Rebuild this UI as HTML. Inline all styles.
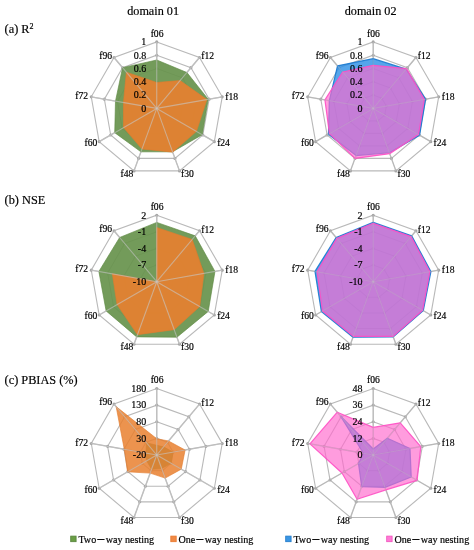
<!DOCTYPE html><html><head><meta charset="utf-8"><title>Radar charts</title><style>html,body{margin:0;padding:0;background:#fff}svg{display:block}text{font-family:"Liberation Serif","Times New Roman",serif;fill:#000;stroke:#000;stroke-width:0.18px}</style></head><body>
<svg width="474" height="550" viewBox="0 0 474 550">
<rect width="474" height="550" fill="#fff"/>
<text x="153.1" y="14.5" font-size="12.2" text-anchor="middle">domain 01</text>
<text x="370.6" y="14.5" font-size="12.2" text-anchor="middle">domain 02</text>
<text x="4.6" y="33" font-size="12.3">(a) R<tspan font-size="8" dy="-4.5">2</tspan></text>
<text x="4.6" y="203.6" font-size="12.3">(b) NSE</text>
<text x="4.6" y="383.9" font-size="12.3">(c) PBIAS (%)</text>
<g>
<polygon points="156.75,95.10 165.30,98.21 169.85,106.09 168.27,115.05 161.30,120.90 152.20,120.90 145.23,115.05 143.65,106.09 148.20,98.21" fill="none" stroke="#b9b9b9" stroke-width="1.1"/>
<polygon points="156.75,81.80 173.85,88.02 182.95,103.78 179.79,121.70 165.85,133.40 147.65,133.40 133.71,121.70 130.55,103.78 139.65,88.02" fill="none" stroke="#b9b9b9" stroke-width="1.1"/>
<polygon points="156.75,68.50 182.40,77.83 196.04,101.47 191.30,128.35 170.40,145.89 143.10,145.89 122.20,128.35 117.46,101.47 131.10,77.83" fill="none" stroke="#b9b9b9" stroke-width="1.1"/>
<polygon points="156.75,55.20 190.95,67.65 209.14,99.16 202.82,135.00 174.95,158.39 138.55,158.39 110.68,135.00 104.36,99.16 122.55,67.65" fill="none" stroke="#b9b9b9" stroke-width="1.1"/>
<polygon points="156.75,41.90 199.50,57.46 222.24,96.85 214.34,141.65 179.49,170.89 134.01,170.89 99.16,141.65 91.26,96.85 114.00,57.46" fill="none" stroke="#b9b9b9" stroke-width="1.1"/>
<circle cx="156.75" cy="108.40" r="1.55" fill="#a6a6a6"/>
<circle cx="156.75" cy="95.10" r="1.55" fill="#a6a6a6"/>
<circle cx="156.75" cy="81.80" r="1.55" fill="#a6a6a6"/>
<circle cx="156.75" cy="68.50" r="1.55" fill="#a6a6a6"/>
<circle cx="156.75" cy="55.20" r="1.55" fill="#a6a6a6"/>
<circle cx="156.75" cy="41.90" r="1.55" fill="#a6a6a6"/>
<circle cx="165.30" cy="98.21" r="1.55" fill="#a6a6a6"/>
<circle cx="173.85" cy="88.02" r="1.55" fill="#a6a6a6"/>
<circle cx="182.40" cy="77.83" r="1.55" fill="#a6a6a6"/>
<circle cx="190.95" cy="67.65" r="1.55" fill="#a6a6a6"/>
<circle cx="199.50" cy="57.46" r="1.55" fill="#a6a6a6"/>
<circle cx="169.85" cy="106.09" r="1.55" fill="#a6a6a6"/>
<circle cx="182.95" cy="103.78" r="1.55" fill="#a6a6a6"/>
<circle cx="196.04" cy="101.47" r="1.55" fill="#a6a6a6"/>
<circle cx="209.14" cy="99.16" r="1.55" fill="#a6a6a6"/>
<circle cx="222.24" cy="96.85" r="1.55" fill="#a6a6a6"/>
<circle cx="168.27" cy="115.05" r="1.55" fill="#a6a6a6"/>
<circle cx="179.79" cy="121.70" r="1.55" fill="#a6a6a6"/>
<circle cx="191.30" cy="128.35" r="1.55" fill="#a6a6a6"/>
<circle cx="202.82" cy="135.00" r="1.55" fill="#a6a6a6"/>
<circle cx="214.34" cy="141.65" r="1.55" fill="#a6a6a6"/>
<circle cx="161.30" cy="120.90" r="1.55" fill="#a6a6a6"/>
<circle cx="165.85" cy="133.40" r="1.55" fill="#a6a6a6"/>
<circle cx="170.40" cy="145.89" r="1.55" fill="#a6a6a6"/>
<circle cx="174.95" cy="158.39" r="1.55" fill="#a6a6a6"/>
<circle cx="179.49" cy="170.89" r="1.55" fill="#a6a6a6"/>
<circle cx="152.20" cy="120.90" r="1.55" fill="#a6a6a6"/>
<circle cx="147.65" cy="133.40" r="1.55" fill="#a6a6a6"/>
<circle cx="143.10" cy="145.89" r="1.55" fill="#a6a6a6"/>
<circle cx="138.55" cy="158.39" r="1.55" fill="#a6a6a6"/>
<circle cx="134.01" cy="170.89" r="1.55" fill="#a6a6a6"/>
<circle cx="145.23" cy="115.05" r="1.55" fill="#a6a6a6"/>
<circle cx="133.71" cy="121.70" r="1.55" fill="#a6a6a6"/>
<circle cx="122.20" cy="128.35" r="1.55" fill="#a6a6a6"/>
<circle cx="110.68" cy="135.00" r="1.55" fill="#a6a6a6"/>
<circle cx="99.16" cy="141.65" r="1.55" fill="#a6a6a6"/>
<circle cx="143.65" cy="106.09" r="1.55" fill="#a6a6a6"/>
<circle cx="130.55" cy="103.78" r="1.55" fill="#a6a6a6"/>
<circle cx="117.46" cy="101.47" r="1.55" fill="#a6a6a6"/>
<circle cx="104.36" cy="99.16" r="1.55" fill="#a6a6a6"/>
<circle cx="91.26" cy="96.85" r="1.55" fill="#a6a6a6"/>
<circle cx="148.20" cy="98.21" r="1.55" fill="#a6a6a6"/>
<circle cx="139.65" cy="88.02" r="1.55" fill="#a6a6a6"/>
<circle cx="131.10" cy="77.83" r="1.55" fill="#a6a6a6"/>
<circle cx="122.55" cy="67.65" r="1.55" fill="#a6a6a6"/>
<circle cx="114.00" cy="57.46" r="1.55" fill="#a6a6a6"/>
<line x1="156.75" y1="108.40" x2="156.75" y2="41.90" stroke="#b2b2b2" stroke-width="1.3"/>
<line x1="156.75" y1="108.40" x2="199.50" y2="57.46" stroke="#b2b2b2" stroke-width="1.3"/>
<line x1="156.75" y1="108.40" x2="222.24" y2="96.85" stroke="#b2b2b2" stroke-width="1.3"/>
<line x1="156.75" y1="108.40" x2="214.34" y2="141.65" stroke="#b2b2b2" stroke-width="1.3"/>
<line x1="156.75" y1="108.40" x2="179.49" y2="170.89" stroke="#b2b2b2" stroke-width="1.3"/>
<line x1="156.75" y1="108.40" x2="134.01" y2="170.89" stroke="#b2b2b2" stroke-width="1.3"/>
<line x1="156.75" y1="108.40" x2="99.16" y2="141.65" stroke="#b2b2b2" stroke-width="1.3"/>
<line x1="156.75" y1="108.40" x2="91.26" y2="96.85" stroke="#b2b2b2" stroke-width="1.3"/>
<line x1="156.75" y1="108.40" x2="114.00" y2="57.46" stroke="#b2b2b2" stroke-width="1.3"/>
<polygon points="156.75,59.99 186.89,72.49 208.22,99.32 202.25,134.67 172.56,151.83 140.94,151.83 114.71,132.67 115.49,101.13 122.55,67.65" fill="#67924c" fill-opacity="0.92" stroke="#5c8742" stroke-width="0.7" stroke-opacity="0.9" stroke-linejoin="round"/>
<polygon points="156.75,82.47 180.09,80.59 206.92,99.55 196.49,131.34 172.67,152.14 141.97,149.02 123.52,127.59 123.48,102.53 126.40,72.23" fill="#e9802f" fill-opacity="0.9" stroke="#e27a2c" stroke-width="0.7" stroke-opacity="0.9" stroke-linejoin="round"/>
<line x1="156.75" y1="108.40" x2="156.75" y2="41.90" stroke="#c8c8c8" stroke-width="1.1" stroke-opacity="0.6"/>
<line x1="156.75" y1="108.40" x2="199.50" y2="57.46" stroke="#c8c8c8" stroke-width="1.1" stroke-opacity="0.6"/>
<line x1="156.75" y1="108.40" x2="222.24" y2="96.85" stroke="#c8c8c8" stroke-width="1.1" stroke-opacity="0.6"/>
<line x1="156.75" y1="108.40" x2="214.34" y2="141.65" stroke="#c8c8c8" stroke-width="1.1" stroke-opacity="0.6"/>
<line x1="156.75" y1="108.40" x2="179.49" y2="170.89" stroke="#c8c8c8" stroke-width="1.1" stroke-opacity="0.6"/>
<line x1="156.75" y1="108.40" x2="134.01" y2="170.89" stroke="#c8c8c8" stroke-width="1.1" stroke-opacity="0.6"/>
<line x1="156.75" y1="108.40" x2="99.16" y2="141.65" stroke="#c8c8c8" stroke-width="1.1" stroke-opacity="0.6"/>
<line x1="156.75" y1="108.40" x2="91.26" y2="96.85" stroke="#c8c8c8" stroke-width="1.1" stroke-opacity="0.6"/>
<line x1="156.75" y1="108.40" x2="114.00" y2="57.46" stroke="#c8c8c8" stroke-width="1.1" stroke-opacity="0.6"/>
<text x="146.15" y="111.70" font-size="10" text-anchor="end">0</text>
<text x="146.15" y="98.40" font-size="10" text-anchor="end">0.2</text>
<text x="146.15" y="85.10" font-size="10" text-anchor="end">0.4</text>
<text x="146.15" y="71.80" font-size="10" text-anchor="end">0.6</text>
<text x="146.15" y="58.50" font-size="10" text-anchor="end">0.8</text>
<text x="146.15" y="45.20" font-size="10" text-anchor="end">1</text>
<text x="157.05" y="36.70" font-size="9.6" text-anchor="middle">f06</text>
<text x="201.30" y="59.26" font-size="9.6" text-anchor="start">f12</text>
<text x="225.24" y="99.65" font-size="9.6" text-anchor="start">f18</text>
<text x="217.14" y="146.15" font-size="9.6" text-anchor="start">f24</text>
<text x="180.99" y="177.09" font-size="9.6" text-anchor="start">f30</text>
<text x="133.41" y="177.09" font-size="9.6" text-anchor="end">f48</text>
<text x="97.36" y="146.15" font-size="9.6" text-anchor="end">f60</text>
<text x="88.06" y="99.15" font-size="9.6" text-anchor="end">f72</text>
<text x="112.10" y="58.86" font-size="9.6" text-anchor="end">f96</text>
</g>
<g>
<polygon points="373.20,95.10 381.75,98.21 386.30,106.09 384.72,115.05 377.75,120.90 368.65,120.90 361.68,115.05 360.10,106.09 364.65,98.21" fill="none" stroke="#b9b9b9" stroke-width="1.1"/>
<polygon points="373.20,81.80 390.30,88.02 399.40,103.78 396.24,121.70 382.30,133.40 364.10,133.40 350.16,121.70 347.00,103.78 356.10,88.02" fill="none" stroke="#b9b9b9" stroke-width="1.1"/>
<polygon points="373.20,68.50 398.85,77.83 412.49,101.47 407.75,128.35 386.85,145.89 359.55,145.89 338.65,128.35 333.91,101.47 347.55,77.83" fill="none" stroke="#b9b9b9" stroke-width="1.1"/>
<polygon points="373.20,55.20 407.40,67.65 425.59,99.16 419.27,135.00 391.40,158.39 355.00,158.39 327.13,135.00 320.81,99.16 339.00,67.65" fill="none" stroke="#b9b9b9" stroke-width="1.1"/>
<polygon points="373.20,41.90 415.95,57.46 438.69,96.85 430.79,141.65 395.94,170.89 350.46,170.89 315.61,141.65 307.71,96.85 330.45,57.46" fill="none" stroke="#b9b9b9" stroke-width="1.1"/>
<circle cx="373.20" cy="108.40" r="1.55" fill="#a6a6a6"/>
<circle cx="373.20" cy="95.10" r="1.55" fill="#a6a6a6"/>
<circle cx="373.20" cy="81.80" r="1.55" fill="#a6a6a6"/>
<circle cx="373.20" cy="68.50" r="1.55" fill="#a6a6a6"/>
<circle cx="373.20" cy="55.20" r="1.55" fill="#a6a6a6"/>
<circle cx="373.20" cy="41.90" r="1.55" fill="#a6a6a6"/>
<circle cx="381.75" cy="98.21" r="1.55" fill="#a6a6a6"/>
<circle cx="390.30" cy="88.02" r="1.55" fill="#a6a6a6"/>
<circle cx="398.85" cy="77.83" r="1.55" fill="#a6a6a6"/>
<circle cx="407.40" cy="67.65" r="1.55" fill="#a6a6a6"/>
<circle cx="415.95" cy="57.46" r="1.55" fill="#a6a6a6"/>
<circle cx="386.30" cy="106.09" r="1.55" fill="#a6a6a6"/>
<circle cx="399.40" cy="103.78" r="1.55" fill="#a6a6a6"/>
<circle cx="412.49" cy="101.47" r="1.55" fill="#a6a6a6"/>
<circle cx="425.59" cy="99.16" r="1.55" fill="#a6a6a6"/>
<circle cx="438.69" cy="96.85" r="1.55" fill="#a6a6a6"/>
<circle cx="384.72" cy="115.05" r="1.55" fill="#a6a6a6"/>
<circle cx="396.24" cy="121.70" r="1.55" fill="#a6a6a6"/>
<circle cx="407.75" cy="128.35" r="1.55" fill="#a6a6a6"/>
<circle cx="419.27" cy="135.00" r="1.55" fill="#a6a6a6"/>
<circle cx="430.79" cy="141.65" r="1.55" fill="#a6a6a6"/>
<circle cx="377.75" cy="120.90" r="1.55" fill="#a6a6a6"/>
<circle cx="382.30" cy="133.40" r="1.55" fill="#a6a6a6"/>
<circle cx="386.85" cy="145.89" r="1.55" fill="#a6a6a6"/>
<circle cx="391.40" cy="158.39" r="1.55" fill="#a6a6a6"/>
<circle cx="395.94" cy="170.89" r="1.55" fill="#a6a6a6"/>
<circle cx="368.65" cy="120.90" r="1.55" fill="#a6a6a6"/>
<circle cx="364.10" cy="133.40" r="1.55" fill="#a6a6a6"/>
<circle cx="359.55" cy="145.89" r="1.55" fill="#a6a6a6"/>
<circle cx="355.00" cy="158.39" r="1.55" fill="#a6a6a6"/>
<circle cx="350.46" cy="170.89" r="1.55" fill="#a6a6a6"/>
<circle cx="361.68" cy="115.05" r="1.55" fill="#a6a6a6"/>
<circle cx="350.16" cy="121.70" r="1.55" fill="#a6a6a6"/>
<circle cx="338.65" cy="128.35" r="1.55" fill="#a6a6a6"/>
<circle cx="327.13" cy="135.00" r="1.55" fill="#a6a6a6"/>
<circle cx="315.61" cy="141.65" r="1.55" fill="#a6a6a6"/>
<circle cx="360.10" cy="106.09" r="1.55" fill="#a6a6a6"/>
<circle cx="347.00" cy="103.78" r="1.55" fill="#a6a6a6"/>
<circle cx="333.91" cy="101.47" r="1.55" fill="#a6a6a6"/>
<circle cx="320.81" cy="99.16" r="1.55" fill="#a6a6a6"/>
<circle cx="307.71" cy="96.85" r="1.55" fill="#a6a6a6"/>
<circle cx="364.65" cy="98.21" r="1.55" fill="#a6a6a6"/>
<circle cx="356.10" cy="88.02" r="1.55" fill="#a6a6a6"/>
<circle cx="347.55" cy="77.83" r="1.55" fill="#a6a6a6"/>
<circle cx="339.00" cy="67.65" r="1.55" fill="#a6a6a6"/>
<circle cx="330.45" cy="57.46" r="1.55" fill="#a6a6a6"/>
<line x1="373.20" y1="108.40" x2="373.20" y2="41.90" stroke="#b2b2b2" stroke-width="1.3"/>
<line x1="373.20" y1="108.40" x2="415.95" y2="57.46" stroke="#b2b2b2" stroke-width="1.3"/>
<line x1="373.20" y1="108.40" x2="438.69" y2="96.85" stroke="#b2b2b2" stroke-width="1.3"/>
<line x1="373.20" y1="108.40" x2="430.79" y2="141.65" stroke="#b2b2b2" stroke-width="1.3"/>
<line x1="373.20" y1="108.40" x2="395.94" y2="170.89" stroke="#b2b2b2" stroke-width="1.3"/>
<line x1="373.20" y1="108.40" x2="350.46" y2="170.89" stroke="#b2b2b2" stroke-width="1.3"/>
<line x1="373.20" y1="108.40" x2="315.61" y2="141.65" stroke="#b2b2b2" stroke-width="1.3"/>
<line x1="373.20" y1="108.40" x2="307.71" y2="96.85" stroke="#b2b2b2" stroke-width="1.3"/>
<line x1="373.20" y1="108.40" x2="330.45" y2="57.46" stroke="#b2b2b2" stroke-width="1.3"/>
<polygon points="373.20,58.66 406.11,69.17 425.59,99.16 419.62,135.20 389.35,152.77 356.03,155.58 328.45,134.24 329.32,100.66 337.51,65.86" fill="#2b8fe6" fill-opacity="0.8" stroke="#1878cf" stroke-width="1.2" stroke-opacity="0.9" stroke-linejoin="round"/>
<polygon points="373.20,65.31 406.54,68.67 424.28,99.39 418.52,134.57 389.69,153.70 355.00,158.39 329.43,133.67 324.93,99.89 342.68,72.03" fill="#ff68cd" fill-opacity="0.66" stroke="#ff4fc4" stroke-width="1.2" stroke-opacity="0.9" stroke-linejoin="round"/>
<line x1="373.20" y1="108.40" x2="373.20" y2="41.90" stroke="#c8c8c8" stroke-width="1.1" stroke-opacity="0.3"/>
<line x1="373.20" y1="108.40" x2="415.95" y2="57.46" stroke="#c8c8c8" stroke-width="1.1" stroke-opacity="0.3"/>
<line x1="373.20" y1="108.40" x2="438.69" y2="96.85" stroke="#c8c8c8" stroke-width="1.1" stroke-opacity="0.3"/>
<line x1="373.20" y1="108.40" x2="430.79" y2="141.65" stroke="#c8c8c8" stroke-width="1.1" stroke-opacity="0.3"/>
<line x1="373.20" y1="108.40" x2="395.94" y2="170.89" stroke="#c8c8c8" stroke-width="1.1" stroke-opacity="0.3"/>
<line x1="373.20" y1="108.40" x2="350.46" y2="170.89" stroke="#c8c8c8" stroke-width="1.1" stroke-opacity="0.3"/>
<line x1="373.20" y1="108.40" x2="315.61" y2="141.65" stroke="#c8c8c8" stroke-width="1.1" stroke-opacity="0.3"/>
<line x1="373.20" y1="108.40" x2="307.71" y2="96.85" stroke="#c8c8c8" stroke-width="1.1" stroke-opacity="0.3"/>
<line x1="373.20" y1="108.40" x2="330.45" y2="57.46" stroke="#c8c8c8" stroke-width="1.1" stroke-opacity="0.3"/>
<text x="362.60" y="111.70" font-size="10" text-anchor="end">0</text>
<text x="362.60" y="98.40" font-size="10" text-anchor="end">0.2</text>
<text x="362.60" y="85.10" font-size="10" text-anchor="end">0.4</text>
<text x="362.60" y="71.80" font-size="10" text-anchor="end">0.6</text>
<text x="362.60" y="58.50" font-size="10" text-anchor="end">0.8</text>
<text x="362.60" y="45.20" font-size="10" text-anchor="end">1</text>
<text x="373.50" y="36.70" font-size="9.6" text-anchor="middle">f06</text>
<text x="417.75" y="59.26" font-size="9.6" text-anchor="start">f12</text>
<text x="441.69" y="99.65" font-size="9.6" text-anchor="start">f18</text>
<text x="433.59" y="146.15" font-size="9.6" text-anchor="start">f24</text>
<text x="397.44" y="177.09" font-size="9.6" text-anchor="start">f30</text>
<text x="349.86" y="177.09" font-size="9.6" text-anchor="end">f48</text>
<text x="313.81" y="146.15" font-size="9.6" text-anchor="end">f60</text>
<text x="304.51" y="99.15" font-size="9.6" text-anchor="end">f72</text>
<text x="328.55" y="58.86" font-size="9.6" text-anchor="end">f96</text>
</g>
<g>
<polygon points="156.75,265.07 167.44,268.96 173.12,278.81 171.15,290.01 162.44,297.32 151.06,297.32 142.35,290.01 140.38,278.81 146.06,268.96" fill="none" stroke="#b9b9b9" stroke-width="1.1"/>
<polygon points="156.75,248.45 178.12,256.23 189.49,275.93 185.55,298.32 168.12,312.94 145.38,312.94 127.95,298.32 124.01,275.93 135.38,256.23" fill="none" stroke="#b9b9b9" stroke-width="1.1"/>
<polygon points="156.75,231.82 188.81,243.49 205.87,273.04 199.94,306.64 173.81,328.57 139.69,328.57 113.56,306.64 107.63,273.04 124.69,243.49" fill="none" stroke="#b9b9b9" stroke-width="1.1"/>
<polygon points="156.75,215.20 199.50,230.76 222.24,270.15 214.34,314.95 179.49,344.19 134.01,344.19 99.16,314.95 91.26,270.15 114.00,230.76" fill="none" stroke="#b9b9b9" stroke-width="1.1"/>
<circle cx="156.75" cy="281.70" r="1.55" fill="#a6a6a6"/>
<circle cx="156.75" cy="265.07" r="1.55" fill="#a6a6a6"/>
<circle cx="156.75" cy="248.45" r="1.55" fill="#a6a6a6"/>
<circle cx="156.75" cy="231.82" r="1.55" fill="#a6a6a6"/>
<circle cx="156.75" cy="215.20" r="1.55" fill="#a6a6a6"/>
<circle cx="167.44" cy="268.96" r="1.55" fill="#a6a6a6"/>
<circle cx="178.12" cy="256.23" r="1.55" fill="#a6a6a6"/>
<circle cx="188.81" cy="243.49" r="1.55" fill="#a6a6a6"/>
<circle cx="199.50" cy="230.76" r="1.55" fill="#a6a6a6"/>
<circle cx="173.12" cy="278.81" r="1.55" fill="#a6a6a6"/>
<circle cx="189.49" cy="275.93" r="1.55" fill="#a6a6a6"/>
<circle cx="205.87" cy="273.04" r="1.55" fill="#a6a6a6"/>
<circle cx="222.24" cy="270.15" r="1.55" fill="#a6a6a6"/>
<circle cx="171.15" cy="290.01" r="1.55" fill="#a6a6a6"/>
<circle cx="185.55" cy="298.32" r="1.55" fill="#a6a6a6"/>
<circle cx="199.94" cy="306.64" r="1.55" fill="#a6a6a6"/>
<circle cx="214.34" cy="314.95" r="1.55" fill="#a6a6a6"/>
<circle cx="162.44" cy="297.32" r="1.55" fill="#a6a6a6"/>
<circle cx="168.12" cy="312.94" r="1.55" fill="#a6a6a6"/>
<circle cx="173.81" cy="328.57" r="1.55" fill="#a6a6a6"/>
<circle cx="179.49" cy="344.19" r="1.55" fill="#a6a6a6"/>
<circle cx="151.06" cy="297.32" r="1.55" fill="#a6a6a6"/>
<circle cx="145.38" cy="312.94" r="1.55" fill="#a6a6a6"/>
<circle cx="139.69" cy="328.57" r="1.55" fill="#a6a6a6"/>
<circle cx="134.01" cy="344.19" r="1.55" fill="#a6a6a6"/>
<circle cx="142.35" cy="290.01" r="1.55" fill="#a6a6a6"/>
<circle cx="127.95" cy="298.32" r="1.55" fill="#a6a6a6"/>
<circle cx="113.56" cy="306.64" r="1.55" fill="#a6a6a6"/>
<circle cx="99.16" cy="314.95" r="1.55" fill="#a6a6a6"/>
<circle cx="140.38" cy="278.81" r="1.55" fill="#a6a6a6"/>
<circle cx="124.01" cy="275.93" r="1.55" fill="#a6a6a6"/>
<circle cx="107.63" cy="273.04" r="1.55" fill="#a6a6a6"/>
<circle cx="91.26" cy="270.15" r="1.55" fill="#a6a6a6"/>
<circle cx="146.06" cy="268.96" r="1.55" fill="#a6a6a6"/>
<circle cx="135.38" cy="256.23" r="1.55" fill="#a6a6a6"/>
<circle cx="124.69" cy="243.49" r="1.55" fill="#a6a6a6"/>
<circle cx="114.00" cy="230.76" r="1.55" fill="#a6a6a6"/>
<line x1="156.75" y1="281.70" x2="156.75" y2="215.20" stroke="#b2b2b2" stroke-width="1.3"/>
<line x1="156.75" y1="281.70" x2="199.50" y2="230.76" stroke="#b2b2b2" stroke-width="1.3"/>
<line x1="156.75" y1="281.70" x2="222.24" y2="270.15" stroke="#b2b2b2" stroke-width="1.3"/>
<line x1="156.75" y1="281.70" x2="214.34" y2="314.95" stroke="#b2b2b2" stroke-width="1.3"/>
<line x1="156.75" y1="281.70" x2="179.49" y2="344.19" stroke="#b2b2b2" stroke-width="1.3"/>
<line x1="156.75" y1="281.70" x2="134.01" y2="344.19" stroke="#b2b2b2" stroke-width="1.3"/>
<line x1="156.75" y1="281.70" x2="99.16" y2="314.95" stroke="#b2b2b2" stroke-width="1.3"/>
<line x1="156.75" y1="281.70" x2="91.26" y2="270.15" stroke="#b2b2b2" stroke-width="1.3"/>
<line x1="156.75" y1="281.70" x2="114.00" y2="230.76" stroke="#b2b2b2" stroke-width="1.3"/>
<polygon points="156.75,222.38 195.22,235.85 214.97,271.43 208.24,311.43 176.95,337.19 136.67,336.88 106.13,310.93 98.86,271.49 119.65,237.48" fill="#67924c" fill-opacity="0.92" stroke="#5c8742" stroke-width="0.7" stroke-opacity="0.9" stroke-linejoin="round"/>
<polygon points="156.75,227.50 192.19,239.47 203.90,273.39 199.77,306.54 174.19,329.63 137.46,334.69 117.07,304.61 112.35,273.87 156.75,281.70" fill="#e9802f" fill-opacity="0.9" stroke="#e27a2c" stroke-width="0.7" stroke-opacity="0.9" stroke-linejoin="round"/>
<line x1="156.75" y1="281.70" x2="156.75" y2="215.20" stroke="#c8c8c8" stroke-width="1.1" stroke-opacity="0.6"/>
<line x1="156.75" y1="281.70" x2="199.50" y2="230.76" stroke="#c8c8c8" stroke-width="1.1" stroke-opacity="0.6"/>
<line x1="156.75" y1="281.70" x2="222.24" y2="270.15" stroke="#c8c8c8" stroke-width="1.1" stroke-opacity="0.6"/>
<line x1="156.75" y1="281.70" x2="214.34" y2="314.95" stroke="#c8c8c8" stroke-width="1.1" stroke-opacity="0.6"/>
<line x1="156.75" y1="281.70" x2="179.49" y2="344.19" stroke="#c8c8c8" stroke-width="1.1" stroke-opacity="0.6"/>
<line x1="156.75" y1="281.70" x2="134.01" y2="344.19" stroke="#c8c8c8" stroke-width="1.1" stroke-opacity="0.6"/>
<line x1="156.75" y1="281.70" x2="99.16" y2="314.95" stroke="#c8c8c8" stroke-width="1.1" stroke-opacity="0.6"/>
<line x1="156.75" y1="281.70" x2="91.26" y2="270.15" stroke="#c8c8c8" stroke-width="1.1" stroke-opacity="0.6"/>
<line x1="156.75" y1="281.70" x2="114.00" y2="230.76" stroke="#c8c8c8" stroke-width="1.1" stroke-opacity="0.6"/>
<text x="146.15" y="285.00" font-size="10" text-anchor="end">-10</text>
<text x="146.15" y="268.38" font-size="10" text-anchor="end">-7</text>
<text x="146.15" y="251.75" font-size="10" text-anchor="end">-4</text>
<text x="146.15" y="235.12" font-size="10" text-anchor="end">-1</text>
<text x="146.15" y="218.50" font-size="10" text-anchor="end">2</text>
<text x="157.05" y="210.00" font-size="9.6" text-anchor="middle">f06</text>
<text x="201.30" y="232.56" font-size="9.6" text-anchor="start">f12</text>
<text x="225.24" y="272.95" font-size="9.6" text-anchor="start">f18</text>
<text x="217.14" y="319.45" font-size="9.6" text-anchor="start">f24</text>
<text x="180.99" y="350.39" font-size="9.6" text-anchor="start">f30</text>
<text x="133.41" y="350.39" font-size="9.6" text-anchor="end">f48</text>
<text x="97.36" y="319.45" font-size="9.6" text-anchor="end">f60</text>
<text x="88.06" y="272.45" font-size="9.6" text-anchor="end">f72</text>
<text x="112.10" y="232.16" font-size="9.6" text-anchor="end">f96</text>
</g>
<g>
<polygon points="373.20,265.07 383.89,268.96 389.57,278.81 387.60,290.01 378.89,297.32 367.51,297.32 358.80,290.01 356.83,278.81 362.51,268.96" fill="none" stroke="#b9b9b9" stroke-width="1.1"/>
<polygon points="373.20,248.45 394.57,256.23 405.94,275.93 402.00,298.32 384.57,312.94 361.83,312.94 344.40,298.32 340.46,275.93 351.83,256.23" fill="none" stroke="#b9b9b9" stroke-width="1.1"/>
<polygon points="373.20,231.82 405.26,243.49 422.32,273.04 416.39,306.64 390.26,328.57 356.14,328.57 330.01,306.64 324.08,273.04 341.14,243.49" fill="none" stroke="#b9b9b9" stroke-width="1.1"/>
<polygon points="373.20,215.20 415.95,230.76 438.69,270.15 430.79,314.95 395.94,344.19 350.46,344.19 315.61,314.95 307.71,270.15 330.45,230.76" fill="none" stroke="#b9b9b9" stroke-width="1.1"/>
<circle cx="373.20" cy="281.70" r="1.55" fill="#a6a6a6"/>
<circle cx="373.20" cy="265.07" r="1.55" fill="#a6a6a6"/>
<circle cx="373.20" cy="248.45" r="1.55" fill="#a6a6a6"/>
<circle cx="373.20" cy="231.82" r="1.55" fill="#a6a6a6"/>
<circle cx="373.20" cy="215.20" r="1.55" fill="#a6a6a6"/>
<circle cx="383.89" cy="268.96" r="1.55" fill="#a6a6a6"/>
<circle cx="394.57" cy="256.23" r="1.55" fill="#a6a6a6"/>
<circle cx="405.26" cy="243.49" r="1.55" fill="#a6a6a6"/>
<circle cx="415.95" cy="230.76" r="1.55" fill="#a6a6a6"/>
<circle cx="389.57" cy="278.81" r="1.55" fill="#a6a6a6"/>
<circle cx="405.94" cy="275.93" r="1.55" fill="#a6a6a6"/>
<circle cx="422.32" cy="273.04" r="1.55" fill="#a6a6a6"/>
<circle cx="438.69" cy="270.15" r="1.55" fill="#a6a6a6"/>
<circle cx="387.60" cy="290.01" r="1.55" fill="#a6a6a6"/>
<circle cx="402.00" cy="298.32" r="1.55" fill="#a6a6a6"/>
<circle cx="416.39" cy="306.64" r="1.55" fill="#a6a6a6"/>
<circle cx="430.79" cy="314.95" r="1.55" fill="#a6a6a6"/>
<circle cx="378.89" cy="297.32" r="1.55" fill="#a6a6a6"/>
<circle cx="384.57" cy="312.94" r="1.55" fill="#a6a6a6"/>
<circle cx="390.26" cy="328.57" r="1.55" fill="#a6a6a6"/>
<circle cx="395.94" cy="344.19" r="1.55" fill="#a6a6a6"/>
<circle cx="367.51" cy="297.32" r="1.55" fill="#a6a6a6"/>
<circle cx="361.83" cy="312.94" r="1.55" fill="#a6a6a6"/>
<circle cx="356.14" cy="328.57" r="1.55" fill="#a6a6a6"/>
<circle cx="350.46" cy="344.19" r="1.55" fill="#a6a6a6"/>
<circle cx="358.80" cy="290.01" r="1.55" fill="#a6a6a6"/>
<circle cx="344.40" cy="298.32" r="1.55" fill="#a6a6a6"/>
<circle cx="330.01" cy="306.64" r="1.55" fill="#a6a6a6"/>
<circle cx="315.61" cy="314.95" r="1.55" fill="#a6a6a6"/>
<circle cx="356.83" cy="278.81" r="1.55" fill="#a6a6a6"/>
<circle cx="340.46" cy="275.93" r="1.55" fill="#a6a6a6"/>
<circle cx="324.08" cy="273.04" r="1.55" fill="#a6a6a6"/>
<circle cx="307.71" cy="270.15" r="1.55" fill="#a6a6a6"/>
<circle cx="362.51" cy="268.96" r="1.55" fill="#a6a6a6"/>
<circle cx="351.83" cy="256.23" r="1.55" fill="#a6a6a6"/>
<circle cx="341.14" cy="243.49" r="1.55" fill="#a6a6a6"/>
<circle cx="330.45" cy="230.76" r="1.55" fill="#a6a6a6"/>
<line x1="373.20" y1="281.70" x2="373.20" y2="215.20" stroke="#b2b2b2" stroke-width="1.3"/>
<line x1="373.20" y1="281.70" x2="415.95" y2="230.76" stroke="#b2b2b2" stroke-width="1.3"/>
<line x1="373.20" y1="281.70" x2="438.69" y2="270.15" stroke="#b2b2b2" stroke-width="1.3"/>
<line x1="373.20" y1="281.70" x2="430.79" y2="314.95" stroke="#b2b2b2" stroke-width="1.3"/>
<line x1="373.20" y1="281.70" x2="395.94" y2="344.19" stroke="#b2b2b2" stroke-width="1.3"/>
<line x1="373.20" y1="281.70" x2="350.46" y2="344.19" stroke="#b2b2b2" stroke-width="1.3"/>
<line x1="373.20" y1="281.70" x2="315.61" y2="314.95" stroke="#b2b2b2" stroke-width="1.3"/>
<line x1="373.20" y1="281.70" x2="307.71" y2="270.15" stroke="#b2b2b2" stroke-width="1.3"/>
<line x1="373.20" y1="281.70" x2="330.45" y2="230.76" stroke="#b2b2b2" stroke-width="1.3"/>
<polygon points="373.20,222.38 411.67,235.85 430.90,271.53 423.30,310.63 393.28,336.88 353.00,337.19 321.37,311.62 314.98,271.43 336.10,237.48" fill="#2b8fe6" fill-opacity="0.8" stroke="#1878cf" stroke-width="1.2" stroke-opacity="0.9" stroke-linejoin="round"/>
<polygon points="373.20,223.31 411.03,236.62 429.85,271.71 422.61,310.23 393.10,336.38 353.30,336.38 322.52,310.96 317.01,271.79 336.87,238.40" fill="#ff68cd" fill-opacity="0.66" stroke="#ff4fc4" stroke-width="1.2" stroke-opacity="0.9" stroke-linejoin="round"/>
<line x1="373.20" y1="281.70" x2="373.20" y2="215.20" stroke="#c8c8c8" stroke-width="1.1" stroke-opacity="0.3"/>
<line x1="373.20" y1="281.70" x2="415.95" y2="230.76" stroke="#c8c8c8" stroke-width="1.1" stroke-opacity="0.3"/>
<line x1="373.20" y1="281.70" x2="438.69" y2="270.15" stroke="#c8c8c8" stroke-width="1.1" stroke-opacity="0.3"/>
<line x1="373.20" y1="281.70" x2="430.79" y2="314.95" stroke="#c8c8c8" stroke-width="1.1" stroke-opacity="0.3"/>
<line x1="373.20" y1="281.70" x2="395.94" y2="344.19" stroke="#c8c8c8" stroke-width="1.1" stroke-opacity="0.3"/>
<line x1="373.20" y1="281.70" x2="350.46" y2="344.19" stroke="#c8c8c8" stroke-width="1.1" stroke-opacity="0.3"/>
<line x1="373.20" y1="281.70" x2="315.61" y2="314.95" stroke="#c8c8c8" stroke-width="1.1" stroke-opacity="0.3"/>
<line x1="373.20" y1="281.70" x2="307.71" y2="270.15" stroke="#c8c8c8" stroke-width="1.1" stroke-opacity="0.3"/>
<line x1="373.20" y1="281.70" x2="330.45" y2="230.76" stroke="#c8c8c8" stroke-width="1.1" stroke-opacity="0.3"/>
<text x="362.60" y="285.00" font-size="10" text-anchor="end">-10</text>
<text x="362.60" y="268.38" font-size="10" text-anchor="end">-7</text>
<text x="362.60" y="251.75" font-size="10" text-anchor="end">-4</text>
<text x="362.60" y="235.12" font-size="10" text-anchor="end">-1</text>
<text x="362.60" y="218.50" font-size="10" text-anchor="end">2</text>
<text x="373.50" y="210.00" font-size="9.6" text-anchor="middle">f06</text>
<text x="417.75" y="232.56" font-size="9.6" text-anchor="start">f12</text>
<text x="441.69" y="272.95" font-size="9.6" text-anchor="start">f18</text>
<text x="433.59" y="319.45" font-size="9.6" text-anchor="start">f24</text>
<text x="397.44" y="350.39" font-size="9.6" text-anchor="start">f30</text>
<text x="349.86" y="350.39" font-size="9.6" text-anchor="end">f48</text>
<text x="313.81" y="319.45" font-size="9.6" text-anchor="end">f60</text>
<text x="304.51" y="272.45" font-size="9.6" text-anchor="end">f72</text>
<text x="328.55" y="232.16" font-size="9.6" text-anchor="end">f96</text>
</g>
<g>
<polygon points="156.75,438.38 167.44,442.26 173.12,452.11 171.15,463.31 162.44,470.62 151.06,470.62 142.35,463.31 140.38,452.11 146.06,442.26" fill="none" stroke="#b9b9b9" stroke-width="1.1"/>
<polygon points="156.75,421.75 178.12,429.53 189.49,449.23 185.55,471.62 168.12,486.24 145.38,486.24 127.95,471.62 124.01,449.23 135.38,429.53" fill="none" stroke="#b9b9b9" stroke-width="1.1"/>
<polygon points="156.75,405.12 188.81,416.79 205.87,446.34 199.94,479.94 173.81,501.87 139.69,501.87 113.56,479.94 107.63,446.34 124.69,416.79" fill="none" stroke="#b9b9b9" stroke-width="1.1"/>
<polygon points="156.75,388.50 199.50,404.06 222.24,443.45 214.34,488.25 179.49,517.49 134.01,517.49 99.16,488.25 91.26,443.45 114.00,404.06" fill="none" stroke="#b9b9b9" stroke-width="1.1"/>
<circle cx="156.75" cy="455.00" r="1.55" fill="#a6a6a6"/>
<circle cx="156.75" cy="438.38" r="1.55" fill="#a6a6a6"/>
<circle cx="156.75" cy="421.75" r="1.55" fill="#a6a6a6"/>
<circle cx="156.75" cy="405.12" r="1.55" fill="#a6a6a6"/>
<circle cx="156.75" cy="388.50" r="1.55" fill="#a6a6a6"/>
<circle cx="167.44" cy="442.26" r="1.55" fill="#a6a6a6"/>
<circle cx="178.12" cy="429.53" r="1.55" fill="#a6a6a6"/>
<circle cx="188.81" cy="416.79" r="1.55" fill="#a6a6a6"/>
<circle cx="199.50" cy="404.06" r="1.55" fill="#a6a6a6"/>
<circle cx="173.12" cy="452.11" r="1.55" fill="#a6a6a6"/>
<circle cx="189.49" cy="449.23" r="1.55" fill="#a6a6a6"/>
<circle cx="205.87" cy="446.34" r="1.55" fill="#a6a6a6"/>
<circle cx="222.24" cy="443.45" r="1.55" fill="#a6a6a6"/>
<circle cx="171.15" cy="463.31" r="1.55" fill="#a6a6a6"/>
<circle cx="185.55" cy="471.62" r="1.55" fill="#a6a6a6"/>
<circle cx="199.94" cy="479.94" r="1.55" fill="#a6a6a6"/>
<circle cx="214.34" cy="488.25" r="1.55" fill="#a6a6a6"/>
<circle cx="162.44" cy="470.62" r="1.55" fill="#a6a6a6"/>
<circle cx="168.12" cy="486.24" r="1.55" fill="#a6a6a6"/>
<circle cx="173.81" cy="501.87" r="1.55" fill="#a6a6a6"/>
<circle cx="179.49" cy="517.49" r="1.55" fill="#a6a6a6"/>
<circle cx="151.06" cy="470.62" r="1.55" fill="#a6a6a6"/>
<circle cx="145.38" cy="486.24" r="1.55" fill="#a6a6a6"/>
<circle cx="139.69" cy="501.87" r="1.55" fill="#a6a6a6"/>
<circle cx="134.01" cy="517.49" r="1.55" fill="#a6a6a6"/>
<circle cx="142.35" cy="463.31" r="1.55" fill="#a6a6a6"/>
<circle cx="127.95" cy="471.62" r="1.55" fill="#a6a6a6"/>
<circle cx="113.56" cy="479.94" r="1.55" fill="#a6a6a6"/>
<circle cx="99.16" cy="488.25" r="1.55" fill="#a6a6a6"/>
<circle cx="140.38" cy="452.11" r="1.55" fill="#a6a6a6"/>
<circle cx="124.01" cy="449.23" r="1.55" fill="#a6a6a6"/>
<circle cx="107.63" cy="446.34" r="1.55" fill="#a6a6a6"/>
<circle cx="91.26" cy="443.45" r="1.55" fill="#a6a6a6"/>
<circle cx="146.06" cy="442.26" r="1.55" fill="#a6a6a6"/>
<circle cx="135.38" cy="429.53" r="1.55" fill="#a6a6a6"/>
<circle cx="124.69" cy="416.79" r="1.55" fill="#a6a6a6"/>
<circle cx="114.00" cy="404.06" r="1.55" fill="#a6a6a6"/>
<line x1="156.75" y1="455.00" x2="156.75" y2="388.50" stroke="#b2b2b2" stroke-width="1.3"/>
<line x1="156.75" y1="455.00" x2="199.50" y2="404.06" stroke="#b2b2b2" stroke-width="1.3"/>
<line x1="156.75" y1="455.00" x2="222.24" y2="443.45" stroke="#b2b2b2" stroke-width="1.3"/>
<line x1="156.75" y1="455.00" x2="214.34" y2="488.25" stroke="#b2b2b2" stroke-width="1.3"/>
<line x1="156.75" y1="455.00" x2="179.49" y2="517.49" stroke="#b2b2b2" stroke-width="1.3"/>
<line x1="156.75" y1="455.00" x2="134.01" y2="517.49" stroke="#b2b2b2" stroke-width="1.3"/>
<line x1="156.75" y1="455.00" x2="99.16" y2="488.25" stroke="#b2b2b2" stroke-width="1.3"/>
<line x1="156.75" y1="455.00" x2="91.26" y2="443.45" stroke="#b2b2b2" stroke-width="1.3"/>
<line x1="156.75" y1="455.00" x2="114.00" y2="404.06" stroke="#b2b2b2" stroke-width="1.3"/>
<polygon points="156.75,445.29 163.59,446.85 173.12,452.11 171.15,463.31 161.71,468.62 151.54,469.31 146.67,460.82 145.88,453.08 146.49,442.77" fill="#67924c" fill-opacity="0.92" stroke="#5c8742" stroke-width="0.7" stroke-opacity="0.9" stroke-linejoin="round"/>
<polygon points="156.75,438.71 168.50,440.99 185.11,450.00 181.28,469.16 165.17,478.12 150.15,473.12 127.55,471.86 124.27,449.27 116.14,406.61" fill="#e9802f" fill-opacity="0.85" stroke="#e27a2c" stroke-width="0.7" stroke-opacity="0.9" stroke-linejoin="round"/>
<line x1="156.75" y1="455.00" x2="156.75" y2="388.50" stroke="#c8c8c8" stroke-width="1.1" stroke-opacity="0.6"/>
<line x1="156.75" y1="455.00" x2="199.50" y2="404.06" stroke="#c8c8c8" stroke-width="1.1" stroke-opacity="0.6"/>
<line x1="156.75" y1="455.00" x2="222.24" y2="443.45" stroke="#c8c8c8" stroke-width="1.1" stroke-opacity="0.6"/>
<line x1="156.75" y1="455.00" x2="214.34" y2="488.25" stroke="#c8c8c8" stroke-width="1.1" stroke-opacity="0.6"/>
<line x1="156.75" y1="455.00" x2="179.49" y2="517.49" stroke="#c8c8c8" stroke-width="1.1" stroke-opacity="0.6"/>
<line x1="156.75" y1="455.00" x2="134.01" y2="517.49" stroke="#c8c8c8" stroke-width="1.1" stroke-opacity="0.6"/>
<line x1="156.75" y1="455.00" x2="99.16" y2="488.25" stroke="#c8c8c8" stroke-width="1.1" stroke-opacity="0.6"/>
<line x1="156.75" y1="455.00" x2="91.26" y2="443.45" stroke="#c8c8c8" stroke-width="1.1" stroke-opacity="0.6"/>
<line x1="156.75" y1="455.00" x2="114.00" y2="404.06" stroke="#c8c8c8" stroke-width="1.1" stroke-opacity="0.6"/>
<text x="146.15" y="458.30" font-size="10" text-anchor="end">-20</text>
<text x="146.15" y="441.68" font-size="10" text-anchor="end">30</text>
<text x="146.15" y="425.05" font-size="10" text-anchor="end">80</text>
<text x="146.15" y="408.43" font-size="10" text-anchor="end">130</text>
<text x="146.15" y="391.80" font-size="10" text-anchor="end">180</text>
<text x="157.05" y="383.30" font-size="9.6" text-anchor="middle">f06</text>
<text x="201.30" y="405.86" font-size="9.6" text-anchor="start">f12</text>
<text x="225.24" y="446.25" font-size="9.6" text-anchor="start">f18</text>
<text x="217.14" y="492.75" font-size="9.6" text-anchor="start">f24</text>
<text x="180.99" y="523.69" font-size="9.6" text-anchor="start">f30</text>
<text x="133.41" y="523.69" font-size="9.6" text-anchor="end">f48</text>
<text x="97.36" y="492.75" font-size="9.6" text-anchor="end">f60</text>
<text x="88.06" y="445.75" font-size="9.6" text-anchor="end">f72</text>
<text x="112.10" y="405.46" font-size="9.6" text-anchor="end">f96</text>
</g>
<g>
<polygon points="373.20,438.38 383.89,442.26 389.57,452.11 387.60,463.31 378.89,470.62 367.51,470.62 358.80,463.31 356.83,452.11 362.51,442.26" fill="none" stroke="#b9b9b9" stroke-width="1.1"/>
<polygon points="373.20,421.75 394.57,429.53 405.94,449.23 402.00,471.62 384.57,486.24 361.83,486.24 344.40,471.62 340.46,449.23 351.83,429.53" fill="none" stroke="#b9b9b9" stroke-width="1.1"/>
<polygon points="373.20,405.12 405.26,416.79 422.32,446.34 416.39,479.94 390.26,501.87 356.14,501.87 330.01,479.94 324.08,446.34 341.14,416.79" fill="none" stroke="#b9b9b9" stroke-width="1.1"/>
<polygon points="373.20,388.50 415.95,404.06 438.69,443.45 430.79,488.25 395.94,517.49 350.46,517.49 315.61,488.25 307.71,443.45 330.45,404.06" fill="none" stroke="#b9b9b9" stroke-width="1.1"/>
<circle cx="373.20" cy="455.00" r="1.55" fill="#a6a6a6"/>
<circle cx="373.20" cy="438.38" r="1.55" fill="#a6a6a6"/>
<circle cx="373.20" cy="421.75" r="1.55" fill="#a6a6a6"/>
<circle cx="373.20" cy="405.12" r="1.55" fill="#a6a6a6"/>
<circle cx="373.20" cy="388.50" r="1.55" fill="#a6a6a6"/>
<circle cx="383.89" cy="442.26" r="1.55" fill="#a6a6a6"/>
<circle cx="394.57" cy="429.53" r="1.55" fill="#a6a6a6"/>
<circle cx="405.26" cy="416.79" r="1.55" fill="#a6a6a6"/>
<circle cx="415.95" cy="404.06" r="1.55" fill="#a6a6a6"/>
<circle cx="389.57" cy="452.11" r="1.55" fill="#a6a6a6"/>
<circle cx="405.94" cy="449.23" r="1.55" fill="#a6a6a6"/>
<circle cx="422.32" cy="446.34" r="1.55" fill="#a6a6a6"/>
<circle cx="438.69" cy="443.45" r="1.55" fill="#a6a6a6"/>
<circle cx="387.60" cy="463.31" r="1.55" fill="#a6a6a6"/>
<circle cx="402.00" cy="471.62" r="1.55" fill="#a6a6a6"/>
<circle cx="416.39" cy="479.94" r="1.55" fill="#a6a6a6"/>
<circle cx="430.79" cy="488.25" r="1.55" fill="#a6a6a6"/>
<circle cx="378.89" cy="470.62" r="1.55" fill="#a6a6a6"/>
<circle cx="384.57" cy="486.24" r="1.55" fill="#a6a6a6"/>
<circle cx="390.26" cy="501.87" r="1.55" fill="#a6a6a6"/>
<circle cx="395.94" cy="517.49" r="1.55" fill="#a6a6a6"/>
<circle cx="367.51" cy="470.62" r="1.55" fill="#a6a6a6"/>
<circle cx="361.83" cy="486.24" r="1.55" fill="#a6a6a6"/>
<circle cx="356.14" cy="501.87" r="1.55" fill="#a6a6a6"/>
<circle cx="350.46" cy="517.49" r="1.55" fill="#a6a6a6"/>
<circle cx="358.80" cy="463.31" r="1.55" fill="#a6a6a6"/>
<circle cx="344.40" cy="471.62" r="1.55" fill="#a6a6a6"/>
<circle cx="330.01" cy="479.94" r="1.55" fill="#a6a6a6"/>
<circle cx="315.61" cy="488.25" r="1.55" fill="#a6a6a6"/>
<circle cx="356.83" cy="452.11" r="1.55" fill="#a6a6a6"/>
<circle cx="340.46" cy="449.23" r="1.55" fill="#a6a6a6"/>
<circle cx="324.08" cy="446.34" r="1.55" fill="#a6a6a6"/>
<circle cx="307.71" cy="443.45" r="1.55" fill="#a6a6a6"/>
<circle cx="362.51" cy="442.26" r="1.55" fill="#a6a6a6"/>
<circle cx="351.83" cy="429.53" r="1.55" fill="#a6a6a6"/>
<circle cx="341.14" cy="416.79" r="1.55" fill="#a6a6a6"/>
<circle cx="330.45" cy="404.06" r="1.55" fill="#a6a6a6"/>
<line x1="373.20" y1="455.00" x2="373.20" y2="388.50" stroke="#b2b2b2" stroke-width="1.3"/>
<line x1="373.20" y1="455.00" x2="415.95" y2="404.06" stroke="#b2b2b2" stroke-width="1.3"/>
<line x1="373.20" y1="455.00" x2="438.69" y2="443.45" stroke="#b2b2b2" stroke-width="1.3"/>
<line x1="373.20" y1="455.00" x2="430.79" y2="488.25" stroke="#b2b2b2" stroke-width="1.3"/>
<line x1="373.20" y1="455.00" x2="395.94" y2="517.49" stroke="#b2b2b2" stroke-width="1.3"/>
<line x1="373.20" y1="455.00" x2="350.46" y2="517.49" stroke="#b2b2b2" stroke-width="1.3"/>
<line x1="373.20" y1="455.00" x2="315.61" y2="488.25" stroke="#b2b2b2" stroke-width="1.3"/>
<line x1="373.20" y1="455.00" x2="307.71" y2="443.45" stroke="#b2b2b2" stroke-width="1.3"/>
<line x1="373.20" y1="455.00" x2="330.45" y2="404.06" stroke="#b2b2b2" stroke-width="1.3"/>
<polygon points="373.20,449.01 387.31,438.19 410.01,448.51 411.21,476.94 384.98,487.37 361.71,486.56 358.51,463.48 363.38,453.27 340.63,416.18" fill="#2b8fe6" fill-opacity="0.8" stroke="#1878cf" stroke-width="1.2" stroke-opacity="0.9" stroke-linejoin="round"/>
<polygon points="373.20,427.40 400.22,422.80 420.81,446.60 417.08,480.34 385.89,489.87 357.10,499.24 341.99,473.02 309.94,443.85 337.29,412.21" fill="#ff68cd" fill-opacity="0.66" stroke="#ff4fc4" stroke-width="1.2" stroke-opacity="0.9" stroke-linejoin="round"/>
<line x1="373.20" y1="455.00" x2="373.20" y2="388.50" stroke="#c8c8c8" stroke-width="1.1" stroke-opacity="0.3"/>
<line x1="373.20" y1="455.00" x2="415.95" y2="404.06" stroke="#c8c8c8" stroke-width="1.1" stroke-opacity="0.3"/>
<line x1="373.20" y1="455.00" x2="438.69" y2="443.45" stroke="#c8c8c8" stroke-width="1.1" stroke-opacity="0.3"/>
<line x1="373.20" y1="455.00" x2="430.79" y2="488.25" stroke="#c8c8c8" stroke-width="1.1" stroke-opacity="0.3"/>
<line x1="373.20" y1="455.00" x2="395.94" y2="517.49" stroke="#c8c8c8" stroke-width="1.1" stroke-opacity="0.3"/>
<line x1="373.20" y1="455.00" x2="350.46" y2="517.49" stroke="#c8c8c8" stroke-width="1.1" stroke-opacity="0.3"/>
<line x1="373.20" y1="455.00" x2="315.61" y2="488.25" stroke="#c8c8c8" stroke-width="1.1" stroke-opacity="0.3"/>
<line x1="373.20" y1="455.00" x2="307.71" y2="443.45" stroke="#c8c8c8" stroke-width="1.1" stroke-opacity="0.3"/>
<line x1="373.20" y1="455.00" x2="330.45" y2="404.06" stroke="#c8c8c8" stroke-width="1.1" stroke-opacity="0.3"/>
<text x="362.60" y="458.30" font-size="10" text-anchor="end">0</text>
<text x="362.60" y="441.68" font-size="10" text-anchor="end">12</text>
<text x="362.60" y="425.05" font-size="10" text-anchor="end">24</text>
<text x="362.60" y="408.43" font-size="10" text-anchor="end">36</text>
<text x="362.60" y="391.80" font-size="10" text-anchor="end">48</text>
<text x="373.50" y="383.30" font-size="9.6" text-anchor="middle">f06</text>
<text x="417.75" y="405.86" font-size="9.6" text-anchor="start">f12</text>
<text x="441.69" y="446.25" font-size="9.6" text-anchor="start">f18</text>
<text x="433.59" y="492.75" font-size="9.6" text-anchor="start">f24</text>
<text x="397.44" y="523.69" font-size="9.6" text-anchor="start">f30</text>
<text x="349.86" y="523.69" font-size="9.6" text-anchor="end">f48</text>
<text x="313.81" y="492.75" font-size="9.6" text-anchor="end">f60</text>
<text x="304.51" y="445.75" font-size="9.6" text-anchor="end">f72</text>
<text x="328.55" y="405.46" font-size="9.6" text-anchor="end">f96</text>
</g>
<rect x="70.7" y="536.1" width="5.4" height="5.6" fill="#6a9e45" stroke="#55813a" stroke-width="0.8"/>
<text x="78.4" y="542.7" font-size="10.1">Two<tspan font-family="DejaVu Sans,sans-serif" font-size="11.3" dy="0.3">−</tspan><tspan dy="-0.3">way nesting</tspan></text>
<rect x="170.8" y="536.1" width="5.4" height="5.6" fill="#f08a45" stroke="#e8762a" stroke-width="0.8"/>
<text x="178.5" y="542.7" font-size="10.1">One<tspan font-family="DejaVu Sans,sans-serif" font-size="11.3" dy="0.3">−</tspan><tspan dy="-0.3">way nesting</tspan></text>
<rect x="285.7" y="536.1" width="5.4" height="5.6" fill="#3a96e4" stroke="#1f78c8" stroke-width="0.8"/>
<text x="293.4" y="542.7" font-size="10.1">Two<tspan font-family="DejaVu Sans,sans-serif" font-size="11.3" dy="0.3">−</tspan><tspan dy="-0.3">way nesting</tspan></text>
<rect x="386.7" y="536.1" width="5.4" height="5.6" fill="#ff7ad6" stroke="#f050bb" stroke-width="0.8"/>
<text x="394.4" y="542.7" font-size="10.1">One<tspan font-family="DejaVu Sans,sans-serif" font-size="11.3" dy="0.3">−</tspan><tspan dy="-0.3">way nesting</tspan></text>
</svg></body></html>
